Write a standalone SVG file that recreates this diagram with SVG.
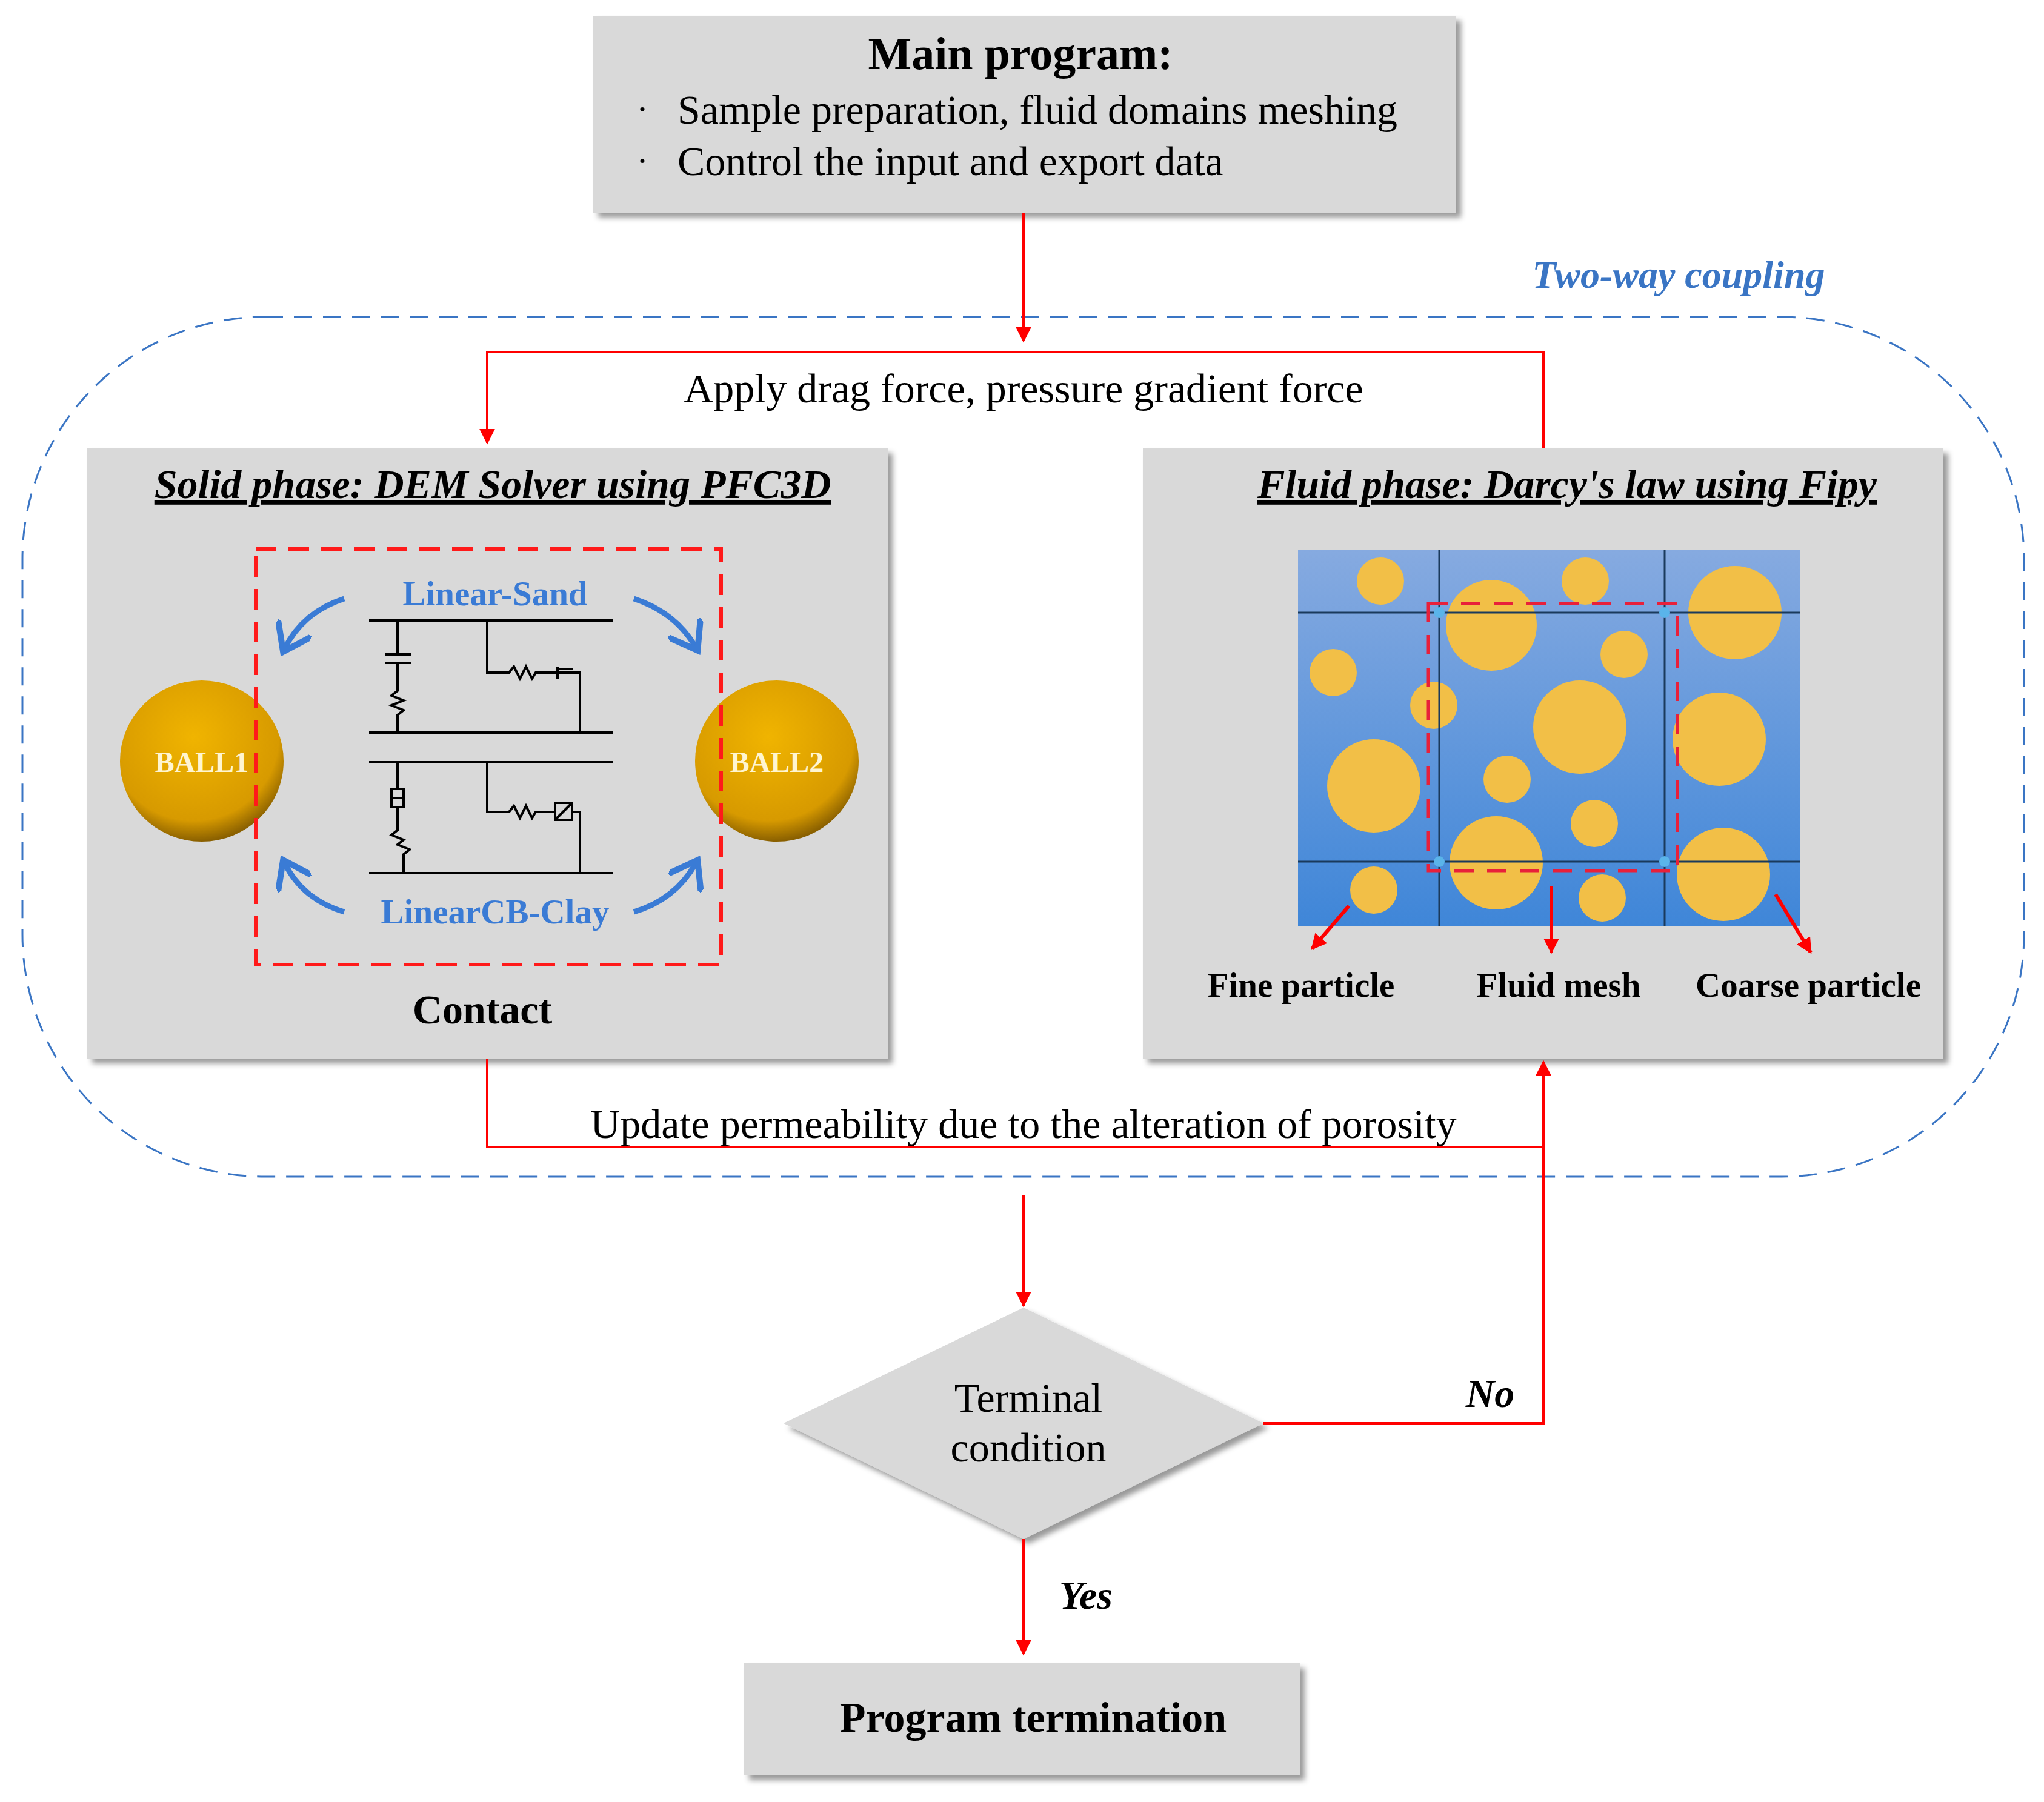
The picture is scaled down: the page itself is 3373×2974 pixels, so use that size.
<svg xmlns="http://www.w3.org/2000/svg" width="3373" height="2974" viewBox="0 0 3373 2974">
<style>
text{font-family:"Liberation Serif","Times New Roman",serif;}
.box{fill:#d9d9d9;filter:url(#sh);}
.red{stroke:#ff0000;stroke-width:4;fill:none;}
.redd{stroke:#ff1a1a;stroke-width:6;fill:none;stroke-dasharray:34 20;}
.blk{stroke:#000;stroke-width:4;fill:none;}
.ball{fill:#f2bf47;}
.grid{stroke:#1a3a5c;stroke-width:3;}
.lbl{font-size:57px;font-weight:bold;text-anchor:middle;}
.bl{fill:#3a7bd5;font-size:57px;font-weight:bold;text-anchor:middle;}
.barr{stroke:#3a7bd5;stroke-width:9;fill:none;marker-end:url(#bh);}
</style>
<defs>
<filter id="sh" x="-5%" y="-5%" width="110%" height="115%"><feDropShadow dx="8" dy="8" stdDeviation="5" flood-color="#000" flood-opacity="0.4"/></filter>
<marker id="ar" viewBox="0 0 10 10" refX="9" refY="5" markerWidth="26" markerHeight="26" markerUnits="userSpaceOnUse" orient="auto"><path d="M0,0L10,5L0,10z" fill="#ff0000"/></marker>
<marker id="bh" viewBox="0 0 10 10" refX="6" refY="5" markerWidth="7" markerHeight="7" orient="auto"><path d="M0,0L7,5L0,10" fill="none" stroke="#3a7bd5" stroke-width="1.6"/></marker>
<radialGradient id="bg" cx="0.45" cy="0.35" r="0.65"><stop offset="0" stop-color="#f0b400"/><stop offset="0.8" stop-color="#d79a00"/><stop offset="1" stop-color="#8a6000"/></radialGradient>
<linearGradient id="wg" x1="0" y1="0" x2="0" y2="1"><stop offset="0" stop-color="#86aae0"/><stop offset="1" stop-color="#3f86d8"/></linearGradient>
</defs>

<rect x="37" y="523" width="3303" height="1419" rx="400" ry="400" fill="none" stroke="#3a75c4" stroke-width="3" stroke-dasharray="30 18"/>
<text x="2770" y="475" font-size="64" font-style="italic" font-weight="bold" fill="#3a75c4" text-anchor="middle">Two-way coupling</text>

<g id="main">
<rect class="box" x="979" y="26" width="1424" height="325"/>
<text x="1684" y="114" font-size="76" font-weight="bold" text-anchor="middle">Main program:</text>
<text x="1050" y="200" font-size="60">·</text>
<text x="1118" y="204" font-size="68">Sample preparation, fluid domains meshing</text>
<text x="1050" y="285" font-size="60">·</text>
<text x="1118" y="289" font-size="68">Control the input and export data</text>
</g>

<g id="solid">
<rect class="box" x="144" y="740" width="1321" height="1007"/>
<text x="813" y="822" font-size="68" font-weight="bold" font-style="italic" text-anchor="middle" text-decoration="underline">Solid phase: DEM Solver using PFC3D</text>
<ellipse cx="333" cy="1256" rx="135" ry="133" fill="url(#bg)"/>
<ellipse cx="1282" cy="1256" rx="135" ry="133" fill="url(#bg)"/>
<text x="333" y="1274" font-size="48" font-weight="bold" fill="#fff5d0" text-anchor="middle">BALL1</text>
<text x="1282" y="1274" font-size="48" font-weight="bold" fill="#fff5d0" text-anchor="middle">BALL2</text>
<rect class="redd" x="422" y="906" width="768" height="686"/>
<text class="bl" x="817" y="999">Linear-Sand</text>
<text class="bl" x="817" y="1524">LinearCB-Clay</text>
<text x="796" y="1689" font-size="68" font-weight="bold" text-anchor="middle">Contact</text>
<g class="blk">
<path d="M609 1024H1011M609 1209H1011M656 1024V1080M636 1080H678M636 1094H678M656 1094V1140l-10 8l20 8l-20 8l20 8l-10 8V1209"/>
<path d="M804 1024V1110H840l8-10l10 20l10-20l10 20l6-10H920M920 1100V1120M920 1110H957V1209M920 1104H945"/>
<path d="M609 1258H1011M609 1441H1011M656 1258V1302M646 1302h20v30h-20zM646 1317h20M656 1332V1370l-10 8l20 8l-10 8l20 8l-10 8V1441"/>
<path d="M804 1258V1340H840l8-10l10 20l10-20l10 20l6-10H916M916 1325h28v28h-28zM916 1353L944 1325M944 1340H957V1441"/>
</g>
<path class="barr" d="M568 988Q500 1010 470 1070"/>
<path class="barr" d="M1046 988Q1114 1010 1148 1068"/>
<path class="barr" d="M568 1505Q500 1485 470 1425"/>
<path class="barr" d="M1046 1505Q1114 1485 1148 1425"/>
</g>

<g id="fluid">
<rect class="box" x="1886" y="740" width="1321" height="1007"/>
<text x="2586" y="822" font-size="68" font-weight="bold" font-style="italic" text-anchor="middle" text-decoration="underline">Fluid phase: Darcy's law using Fipy</text>
<rect x="2142" y="908" width="829" height="621" fill="url(#wg)"/>
<g class="ball">
<circle cx="2278" cy="959" r="39"/><circle cx="2461" cy="1032" r="75"/><circle cx="2616" cy="959" r="39"/><circle cx="2863" cy="1011" r="77"/>
<circle cx="2200" cy="1110" r="39"/><circle cx="2680" cy="1080" r="39"/><circle cx="2366" cy="1164" r="39"/><circle cx="2607" cy="1200" r="77"/>
<circle cx="2837" cy="1220" r="77"/><circle cx="2267" cy="1297" r="77"/><circle cx="2487" cy="1286" r="39"/><circle cx="2631" cy="1359" r="39"/>
<circle cx="2469" cy="1424" r="77"/><circle cx="2267" cy="1469" r="39"/><circle cx="2644" cy="1482" r="39"/><circle cx="2844" cy="1443" r="77"/>
</g>
<path class="grid" d="M2375 908V1529M2747 908V1529M2142 1011H2971M2142 1422H2971"/>
<rect x="2357" y="996" width="411" height="441" fill="none" stroke="#e8203a" stroke-width="5" stroke-dasharray="32 22"/>
<g fill="#5ab4ea"><circle cx="2375" cy="1011" r="9"/><circle cx="2747" cy="1011" r="9"/><circle cx="2375" cy="1422" r="9"/><circle cx="2747" cy="1422" r="9"/></g>
<g stroke="#ff0000" stroke-width="6" marker-end="url(#ar)">
<path d="M2226 1495L2165 1566"/><path d="M2560 1463V1572"/><path d="M2930 1476L2988 1572"/>
</g>
<text class="lbl" x="2147" y="1645">Fine particle</text>
<text class="lbl" x="2572" y="1645">Fluid mesh</text>
<text class="lbl" x="2984" y="1645">Coarse particle</text>
</g>

<g id="decision">
<polygon points="1689,2158 2085,2349 1689,2540 1293,2349" fill="#d9d9d9" filter="url(#sh)"/>
<text x="1697" y="2330" font-size="68" text-anchor="middle">Terminal</text>
<text x="1697" y="2412" font-size="68" text-anchor="middle">condition</text>
</g>

<g id="termination">
<rect class="box" x="1228" y="2745" width="917" height="185"/>
<text x="1705" y="2858" font-size="70" font-weight="bold" text-anchor="middle">Program termination</text>
</g>

<g id="connectors">
<path class="red" d="M1689 351V563" marker-end="url(#ar)"/>
<path class="red" d="M2547 740V581H804V731" marker-end="url(#ar)"/>
<text x="1689" y="664" font-size="68" text-anchor="middle">Apply drag force, pressure gradient force</text>
<path class="red" d="M804 1747V1893H2547"/>
<text x="1689" y="1878" font-size="68" text-anchor="middle">Update permeability due to the alteration of porosity</text>
<path class="red" d="M2085 2349H2547V1752" marker-end="url(#ar)"/>
<text x="2459" y="2322" font-size="66" font-style="italic" font-weight="bold" text-anchor="middle">No</text>
<path class="red" d="M1689 1972V2155" marker-end="url(#ar)"/>
<path class="red" d="M1689 2540V2730" marker-end="url(#ar)"/>
<text x="1792" y="2655" font-size="66" font-style="italic" font-weight="bold" text-anchor="middle">Yes</text>
</g>
</svg>
